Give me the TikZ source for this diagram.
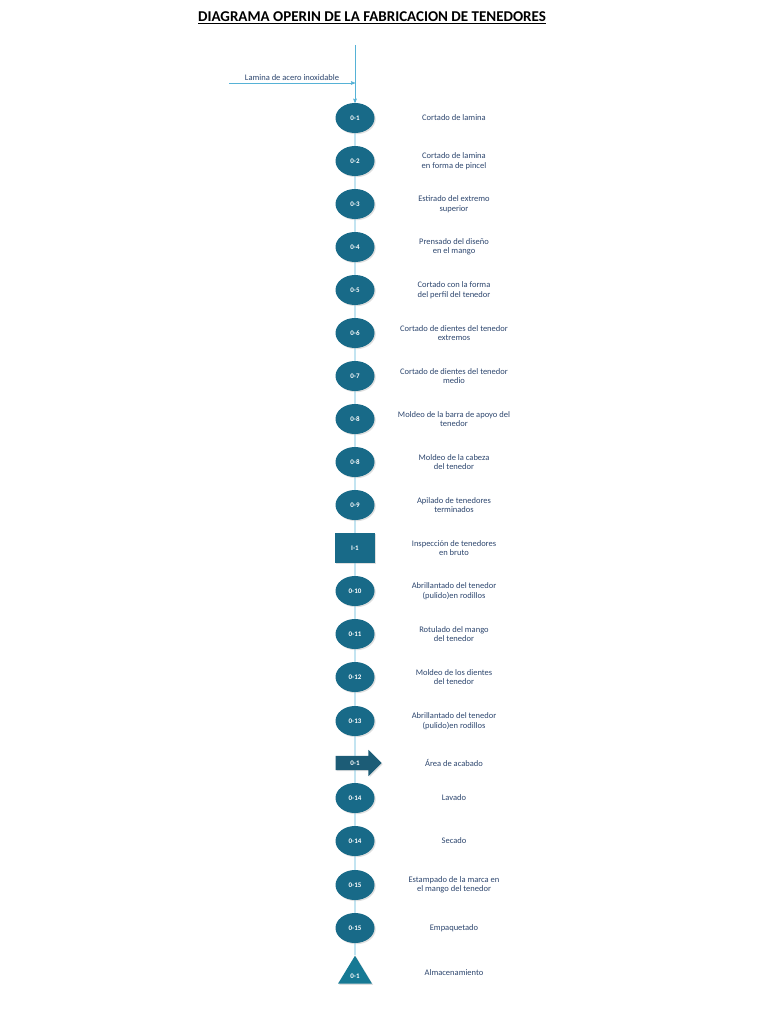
\documentclass[tikz,border=0pt]{standalone}
\usepackage{fontspec}
\setmainfont{Carlito}
\usetikzlibrary{arrows,shapes.geometric,shapes.arrows,shadows}
\definecolor{opblue}{RGB}{24,106,136}
\definecolor{arrowblue}{RGB}{28,92,118}
\definecolor{linkblue}{RGB}{86,178,214}
\definecolor{textblue}{RGB}{45,70,110}

\begin{document}
\begin{tikzpicture}[x=1pt,y=-1pt,node distance=43pt,
  op node/.style={ellipse,fill=opblue,draw=none,minimum width=39pt,minimum height=30pt,
    inner sep=0pt,text=white,font=\fontsize{7}{8}\selectfont\bfseries,
    drop shadow={opacity=0.25,shadow xshift=1.2pt,shadow yshift=-1.2pt}},
  ins node/.style={op node,rectangle,minimum width=40pt,minimum height=30pt},
  move node/.style={op node,single arrow,fill=arrowblue,minimum height=46pt,minimum width=0pt,
    inner ysep=4.5pt,single arrow head extend=6pt},
  store node/.style={op node,isosceles triangle,isosceles triangle stretches,shape border rotate=90,
    minimum width=34pt,minimum height=28pt,fill=opblue!90!cyan},
  step label/.style={align=center,text=textblue,font=\fontsize{8.5}{9.5}\selectfont},
  link/.style={draw=linkblue,line width=0.6pt},
  flow/.style={link,->,>=stealth'}]

  \useasboundingbox (0,0) rectangle (768,1024);

  \node (title) at (372,18) {\fontsize{15}{17}\selectfont\bfseries\underline{DIAGRAMA OPERIN DE LA FABRICACION DE TENEDORES}};

  % operations
  \node[op node] (n1) at (355,118) {0-1};
  \node[op node] (n2) [below of=n1] {0-2};
  \node[op node] (n3) [below of=n2] {0-3};
  \node[op node] (n4) [below of=n3] {0-4};
  \node[op node] (n5) [below of=n4] {0-5};
  \node[op node] (n6) [below of=n5] {0-6};
  \node[op node] (n7) [below of=n6] {0-7};
  \node[op node] (n8) [below of=n7] {0-8};
  \node[op node] (n9) [below of=n8] {0-8};
  \node[op node] (n10) [below of=n9] {0-9};
  \node[ins node] (n11) [below of=n10] {I-1};
  \node[op node] (n12) [below of=n11] {0-10};
  \node[op node] (n13) [below of=n12] {0-11};
  \node[op node] (n14) [below of=n13] {0-12};
  \node[op node] (n15) [below of=n14,node distance=44pt] {0-13};
  \node[move node] (n16) [below of=n15,node distance=42pt] {0-1};
  \node[op node] (n17) [below of=n16,node distance=35pt] {0-14};
  \node[op node] (n18) [below of=n17] {0-14};
  \node[op node] (n19) [below of=n18,node distance=44pt] {0-15};
  \node[op node] (n20) [below of=n19] {0-15};
  \node[store node] (n21) [below of=n20,node distance=48pt] {0-1};

  % descriptions
  \begin{scope}[node distance=99pt]
  \node[step label] (d1) [right of=n1] {Cortado de lamina};
  \node[step label] (d2) [right of=n2] {Cortado de lamina\\en forma de pincel};
  \node[step label] (d3) [right of=n3] {Estirado del extremo\\superior};
  \node[step label] (d4) [right of=n4] {Prensado del diseño\\en el mango};
  \node[step label] (d5) [right of=n5] {Cortado con la forma\\del perfil del tenedor};
  \node[step label] (d6) [right of=n6] {Cortado de dientes del tenedor\\extremos};
  \node[step label] (d7) [right of=n7] {Cortado de dientes del tenedor\\medio};
  \node[step label] (d8) [right of=n8] {Moldeo de la barra de apoyo del\\tenedor};
  \node[step label] (d9) [right of=n9] {Moldeo de la cabeza\\del tenedor};
  \node[step label] (d10) [right of=n10] {Apilado de tenedores\\terminados};
  \node[step label] (d11) [right of=n11] {Inspección de tenedores\\en bruto};
  \node[step label] (d12) [right of=n12] {Abrillantado del tenedor\\(pulido)en rodillos};
  \node[step label] (d13) [right of=n13] {Rotulado del mango\\del tenedor};
  \node[step label] (d14) [right of=n14] {Moldeo de los dientes\\del tenedor};
  \node[step label] (d15) [right of=n15] {Abrillantado del tenedor\\(pulido)en rodillos};
  \node[step label] (d16) [right of=n16] {Área de acabado};
  \node[step label] (d17) [right of=n17] {Lavado};
  \node[step label] (d18) [right of=n18] {Secado};
  \node[step label] (d19) [right of=n19] {Estampado de la marca en\\el mango del tenedor};
  \node[step label] (d20) [right of=n20] {Empaquetado};
  \node[step label] (d21) [right of=n21,yshift=3pt] {Almacenamiento};
  \end{scope}

  % material input
  \coordinate (top) at (355,45);
  \coordinate (feed) at (229,83);
  \coordinate (join) at (355,83);
  \draw[flow] (top) -- (n1);
  \draw[flow] (feed) -- node[step label,above,inner sep=2pt] {Lamina de acero inoxidable} (join);

  \path[link]
    (n1) -- (n2) -- (n3) -- (n4) -- (n5) -- (n6) -- (n7) -- (n8) -- (n9) -- (n10)
    -- (n11) -- (n12) -- (n13) -- (n14) -- (n15) -- (n16) -- (n17) -- (n18)
    -- (n19) -- (n20) -- (n21);

\end{tikzpicture}
\end{document}
